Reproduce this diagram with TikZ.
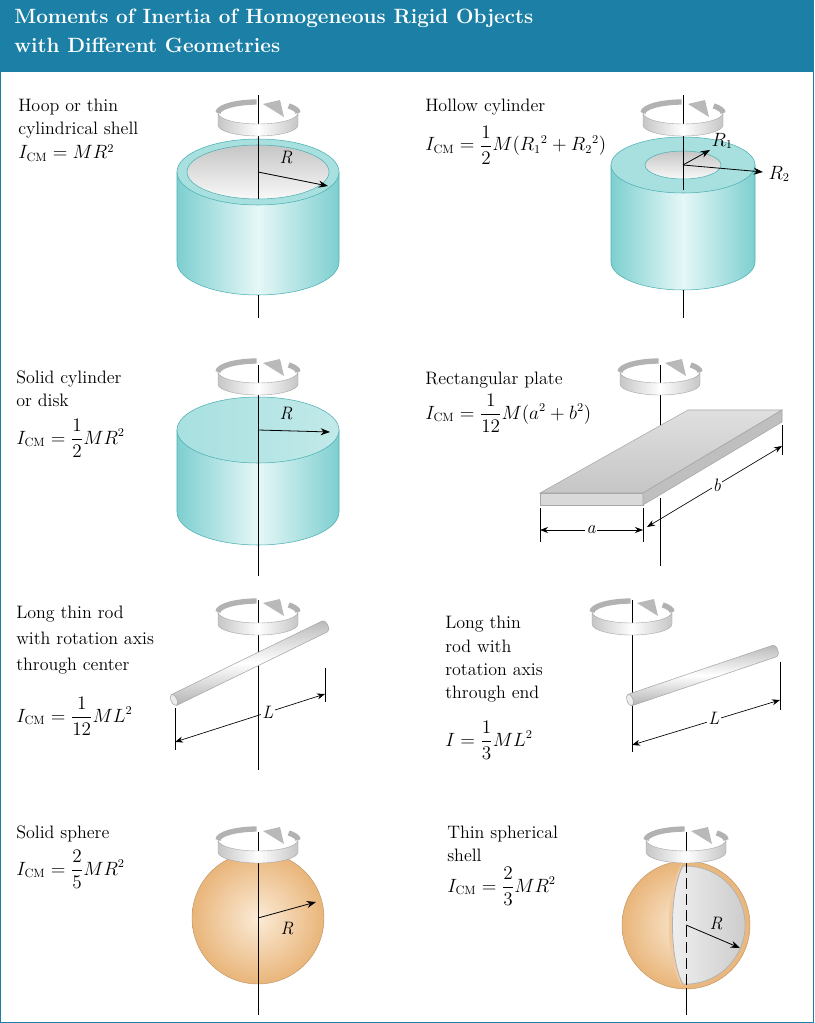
\documentclass[tikz,border=0pt]{standalone}
\usetikzlibrary{arrows.meta}
\definecolor{hdr}{HTML}{1B7FA6}
\definecolor{teal1}{HTML}{7ECFD0}
\definecolor{teal2}{HTML}{E6F7F7}
\definecolor{tealtop}{HTML}{A8E0E0}
\definecolor{tealedge}{HTML}{4BAFB3}
\definecolor{orng}{HTML}{E9B57A}
\definecolor{orngl}{HTML}{FBEBD6}
\tikzset{
  txt/.style={anchor=base west,inner sep=0pt,font=\fontsize{13.5}{16}\selectfont,align=left},
  axisline/.style={line width=0.6pt,black},
  dim/.style={line width=0.5pt,{Stealth[length=6pt]}-{Stealth[length=6pt]}},
  rarr/.style={line width=0.6pt,-{Stealth[length=7pt]}},
  lbl/.style={font=\fontsize{13.5}{16}\selectfont\itshape,inner sep=1pt},
}
\newcommand{\rotarrow}[2]{%
  \begin{scope}[shift={(#1,#2)}]
    \draw[gray!60,line width=4pt] (-40,0) arc(180:268:40 and 11);
    \draw[gray!60,line width=4pt] (40,0) arc(0:-40:40 and 11);
    \fill[gray!55] (22,-13) -- (5,-9) -- (26,4) -- cycle;
    \shade[left color=gray!45,right color=gray!45,middle color=white,draw=gray!70,line width=0.3pt]
      (-40,0) arc(180:0:40 and 11) -- (40,12) arc(0:180:40 and 11) -- cycle;
  \end{scope}}
\newcommand{\fr}[2]{\displaystyle\frac{#1}{#2}}
\begin{document}
\begin{tikzpicture}[x=0.75pt,y=-0.75pt]
\useasboundingbox (0,0) rectangle (814,1023);
\fill[white] (0,0) rectangle (814,1023);
\draw[hdr,line width=1pt] (0.5,0.5) rectangle (813.5,1022.5);
\fill[hdr] (0,0) rectangle (814,72);
\node[anchor=base west,inner sep=0pt,text=white,font=\fontsize{15.5}{18}\bfseries\selectfont] (t1) at (14,24) {Moments of Inertia of Homogeneous Rigid Objects};
\node[anchor=base west,inner sep=0pt,text=white,font=\fontsize{15.5}{18}\bfseries\selectfont] (t2) at (14,53) {with Different Geometries};

% ---------- Hoop
\node[txt] (h1) at (18,112) {Hoop or thin};
\node[txt] (h2) at (18,135) {cylindrical shell};
\node[txt] (h3) at (18,159) {$I_{\rm CM} = MR^2$};
\draw[axisline] (258,95) -- (258,110);
\shade[left color=teal1,right color=teal1,middle color=teal2,draw=tealedge,line width=0.4pt]
  (177,172) -- (177,262) arc(180:0:81 and 33) -- (339,172) -- cycle;
\fill[tealtop,draw=tealedge,line width=0.4pt] (258,172) ellipse (81 and 33);
\shade[top color=gray!45,bottom color=gray!5,draw=tealedge,line width=0.4pt] (258,172) ellipse (71 and 27);
\draw[axisline] (258,110) -- (258,199);
\draw[axisline] (258,295) -- (258,318);
\coordinate (hc) at (258,172); \coordinate (he) at (328,186);
\draw[rarr] (hc) -- (he);
\node[lbl] (hR) at (286,158) {R};
\rotarrow{258}{113}

% ---------- Hollow cylinder
\node[txt] (c1) at (425,112) {Hollow cylinder};
\node[txt] (c2) at (425,151) {$I_{\rm CM} = \fr{1}{2}M(R_1{}^2 + R_2{}^2)$};
\draw[axisline] (683,95) -- (683,110);
\shade[left color=teal1,right color=teal1,middle color=teal2,draw=tealedge,line width=0.4pt]
  (611,165) -- (611,262) arc(180:0:72 and 28) -- (755,165) -- cycle;
\fill[tealtop,draw=tealedge,line width=0.4pt] (683,165) ellipse (72 and 28);
\shade[top color=gray!45,bottom color=gray!5,draw=tealedge,line width=0.4pt] (683,165) ellipse (38 and 14);
\draw[axisline] (683,110) -- (683,190);
\draw[axisline] (683,290) -- (683,318);
\coordinate (cc) at (683,165);
\coordinate (ce1) at (710,150); \coordinate (ce2) at (763,172);
\draw[rarr] (cc) -- (ce1);
\draw[rarr] (cc) -- (ce2);
\node[lbl,anchor=west] (cR1) at (710,141) {$R_1$};
\node[lbl,anchor=west] (cR2) at (767,174) {$R_2$};
\rotarrow{683}{113}

% ---------- Solid cylinder
\node[txt] (s1) at (16,383) {Solid cylinder};
\node[txt] (s2) at (16,406) {or disk};
\node[txt] (s3) at (16,444) {$I_{\rm CM} = \fr{1}{2}MR^2$};
\shade[left color=teal1,right color=teal1,middle color=teal2,draw=tealedge,line width=0.4pt]
  (177,430) -- (177,512) arc(180:0:81 and 33) -- (339,430) -- cycle;
\shade[left color=tealtop,right color=tealtop!70!white,draw=tealedge,line width=0.4pt] (258,430) ellipse (81 and 33);
\draw[axisline] (258,365) -- (258,576);
\coordinate (sc) at (258,430); \coordinate (se) at (330,432);
\draw[rarr] (sc) -- (se);
\node[lbl] (sR) at (286,414) {R};
\rotarrow{258}{372}

% ---------- Rectangular plate
\node[txt] (p1) at (425,384) {Rectangular plate};
\node[txt] (p2) at (425,419) {$I_{\rm CM} = \fr{1}{12}M(a^2 + b^2)$};
\draw[axisline] (660,365) -- (660,450);
\shade[top color=gray!25,bottom color=gray!45,draw=gray!70,line width=0.4pt]
  (540,493) -- (643,493) -- (782,410) -- (688,410) -- cycle;
\fill[gray!30,draw=gray!70,line width=0.4pt] (540,493) rectangle (643,505);
\fill[gray!50,draw=gray!70,line width=0.4pt] (643,493) -- (782,410) -- (782,422) -- (643,505) -- cycle;
\draw[axisline] (660,498) -- (660,566);
\draw[line width=0.5pt] (540,508) -- (540,542) (643,508) -- (643,542) (782,425) -- (782,455);
\coordinate (pa1) at (540,530); \coordinate (pa2) at (643,530);
\draw[dim] (pa1) -- (pa2);
\node[lbl,fill=white] (pa) at (591,530) {a};
\coordinate (pb1) at (647,527); \coordinate (pb2) at (782,446);
\draw[dim] (pb1) -- (pb2);
\node[lbl,fill=white] (pb) at (717,485) {b};
\rotarrow{660}{372}

% ---------- Rod through center
\node[txt] (r1) at (16,618) {Long thin rod};
\node[txt] (r2) at (16,644) {with rotation axis};
\node[txt] (r3) at (16,670) {through center};
\node[txt] (r4) at (16,722) {$I_{\rm CM} = \fr{1}{12}ML^2$};
\draw[axisline] (258,600) -- (258,770);
\begin{scope}[shift={(174,700)},rotate=26]
  \shade[top color=gray!55,bottom color=gray!60,middle color=white,draw=gray!70,line width=0.4pt]
    (0,-6) -- (168,-6) arc(-90:90:3 and 6) -- (0,6) -- cycle;
  \fill[gray!15,draw=gray!70,line width=0.4pt] (0,0) ellipse (3 and 6);
\end{scope}
\draw[line width=0.5pt] (175,708) -- (175,750) (325,668) -- (325,702);
\coordinate (rl1) at (175,742); \coordinate (rl2) at (325,694);
\draw[dim] (rl1) -- (rl2);
\node[lbl,fill=white] (rL) at (268,712) {L};
\rotarrow{258}{612}

% ---------- Rod through end
\node[txt] (e1) at (445,628) {Long thin};
\node[txt] (e2) at (445,652) {rod with};
\node[txt] (e3) at (445,675) {rotation axis};
\node[txt] (e4) at (445,698) {through end};
\node[txt] (e5) at (445,746) {$I = \fr{1}{3}ML^2$};
\draw[axisline] (632,600) -- (632,700);
\begin{scope}[shift={(630,700)},rotate=18.7]
  \shade[top color=gray!55,bottom color=gray!60,middle color=white,draw=gray!70,line width=0.4pt]
    (0,-6) -- (153,-6) arc(-90:90:3 and 6) -- (0,6) -- cycle;
  \fill[gray!15,draw=gray!70,line width=0.4pt] (0,0) ellipse (3 and 6);
\end{scope}
\draw[line width=0.5pt] (632,706) -- (632,752) (780,662) -- (780,710);
\coordinate (el1) at (632,745); \coordinate (el2) at (780,700);
\draw[dim] (el1) -- (el2);
\node[lbl,fill=white] (eL) at (714,718) {L};
\rotarrow{632}{612}

% ---------- Solid sphere
\node[txt] (o1) at (16,838) {Solid sphere};
\node[txt] (o2) at (16,875) {$I_{\rm CM} = \fr{2}{5}MR^2$};
\shade[inner color=orngl,outer color=orng,draw=orng!80!black,line width=0.3pt] (258,918) circle (66);
\draw[axisline] (258,832) -- (258,1015);
\coordinate (oc) at (258,918); \coordinate (oe) at (316,902);
\draw[rarr] (oc) -- (oe);
\node[lbl] (oR) at (287,929) {R};
\rotarrow{258}{840}

% ---------- Thin spherical shell
\node[txt] (z1) at (447,838) {Thin spherical};
\node[txt] (z2) at (447,861) {shell};
\node[txt] (z3) at (447,892) {$I_{\rm CM} = \fr{2}{3}MR^2$};
\shade[inner color=orngl,outer color=orng,draw=orng!80!black,line width=0.3pt] (686,925) circle (64);
\fill[orng!70] (683,862) .. controls (664,890) and (664,960) .. (683,988)
  .. controls (670,960) and (670,890) .. (683,862) -- cycle;
\shade[left color=gray!12,right color=gray!40,draw=gray!60,line width=0.6pt]
  (683,866) .. controls (669,890) and (669,960) .. (683,984)
  arc(93:-93:59) -- cycle;
\draw[axisline] (686,832) -- (686,862);
\draw[axisline,dash pattern=on 8pt off 4pt] (686,862) -- (686,988);
\draw[axisline] (686,988) -- (686,1015);
\coordinate (zc) at (686,925); \coordinate (ze) at (740,948);
\draw[rarr] (zc) -- (ze);
\node[lbl] (zR) at (716,924) {R};
\rotarrow{686}{840}
\end{tikzpicture}
\end{document}
